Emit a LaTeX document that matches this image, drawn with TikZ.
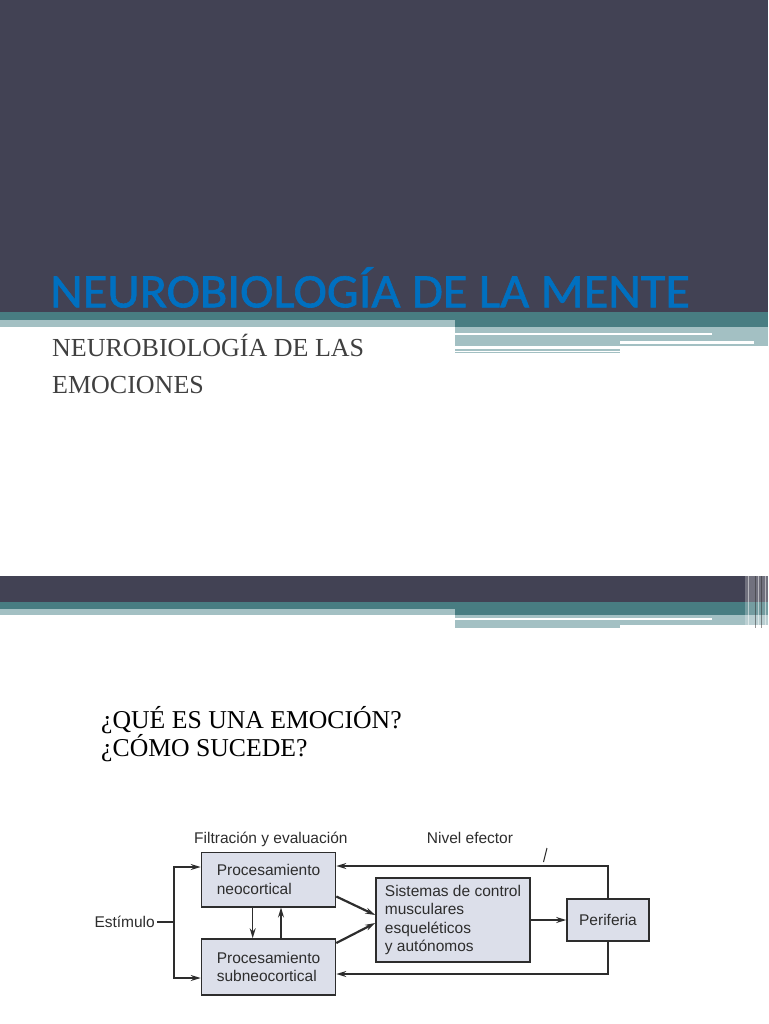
\documentclass[tikz,border=0pt]{standalone}
\usepackage{fontspec}
\setmainfont{Liberation Serif}
\newfontfamily\titlefont[FakeStretch=1.05,FakeBold=1.3]{Carlito}
\newfontfamily\diagfont{Liberation Sans}
\usetikzlibrary{arrows.meta}
\definecolor{slate}{RGB}{66,66,84}
\definecolor{tealband}{RGB}{72,125,130}
\definecolor{paleteal}{RGB}{163,192,195}
\definecolor{titleblue}{RGB}{0,112,192}
\definecolor{subgray}{RGB}{64,64,64}
\definecolor{boxfill}{RGB}{220,223,234}
\definecolor{ink}{RGB}{45,45,45}

\begin{document}
\begin{tikzpicture}[x=1pt,y=-1pt,>={Stealth[length=10pt,width=6pt]},
  box/.style={draw=ink,line width=1.6pt,fill=boxfill,align=left,inner sep=0pt,
    font=\diagfont\fontsize{15.5}{18.3}\selectfont,text=ink},
  lbl/.style={inner sep=0pt,font=\diagfont\fontsize{15.5}{18}\selectfont,text=ink},
  wire/.style={draw=ink,line width=1.3pt},
  heavy/.style={draw=ink,line width=2.2pt}]
\useasboundingbox (0,0) rectangle (768,1024);
%% franja superior
\fill[slate] (0,0) rectangle (768,312);
\fill[tealband] (0,312) rectangle (768,319.5);
\fill[tealband] (455,319.5) rectangle (768,327);
\fill[paleteal] (0,319.5) rectangle (455,327);
\fill[paleteal] (455,327) rectangle (768,346);
\fill[white] (455,333.3) rectangle (712,335);
\fill[white] (620,341) rectangle (754,344);
\fill[paleteal] (455,349) rectangle (620,353);
\fill[white] (455,350.6) rectangle (620,351.4);
%% franja media
\fill[slate] (0,576) rectangle (768,602);
\fill[tealband] (0,602) rectangle (768,609);
\fill[tealband] (455,609) rectangle (768,615);
\fill[paleteal] (0,609) rectangle (455,615);
\fill[paleteal] (455,615) rectangle (768,625);
\fill[white] (455,617.7) rectangle (712,620);
\fill[paleteal] (455,625) rectangle (620,628);
\fill[white,opacity=.25] (745,576) rectangle (768,628);
\foreach \x/\c in {748/white,755/ink,758/white,761/ink,765/white}
  \draw[\c,opacity=.5,line width=1pt] (\x,576) -- (\x,628);
%% textos
\node[anchor=base west,inner sep=0pt,text=titleblue,font=\titlefont\fontsize{48}{48}\selectfont] (titulo) at (50,307.3) {NEUROBIOLOGÍA DE LA MENTE};
\node[anchor=base west,inner sep=0pt,text=subgray,font=\fontsize{26}{26}\selectfont] (subtA) at (52,356.7) {NEUROBIOLOGÍA DE LAS};
\node[anchor=base west,inner sep=0pt,text=subgray,font=\fontsize{26}{26}\selectfont] (subtB) at (52,393.3) {EMOCIONES};
\node[anchor=base west,inner sep=0pt,font=\fontsize{25.7}{25.7}\selectfont] (pregA) at (101,728) {¿QUÉ ES UNA EMOCIÓN?};
\node[anchor=base west,inner sep=0pt,font=\fontsize{25.7}{25.7}\selectfont] (pregB) at (101,756) {¿CÓMO SUCEDE?};
%% diagrama
\node[box,minimum width=134pt,minimum height=54.4pt] (neo) at (268.5,879.5) {Procesamiento\\neocortical};
\node[box,minimum width=134pt,minimum height=56pt] (subn) at (268.5,967) {Procesamiento\\subneocortical};
\node[box,minimum width=154pt,minimum height=84pt] (sis) at (453,920) {Sistemas de control\\musculares\\esqueléticos\\y autónomos};
\node[box,minimum width=82pt,minimum height=42pt] (peri) at (608,920) {Periferia};
\node[lbl,anchor=base west] (filt) at (194,843) {Filtración y evaluación};
\node[lbl,anchor=base west] (nivel) at (426.7,843) {Nivel efector};
\node[lbl,anchor=east] (est) at (155,922) {Estímulo};
\coordinate (split) at (174,922);
\draw[wire] ([xshift=2pt]est.east) -- (split);
\draw[wire,->] (split) |- ([yshift=12.5pt]neo.west);
\draw[wire,->] (split) |- ([yshift=-11pt]subn.west);
\draw[wire,->] ([xshift=-15.8pt]neo.south) -- ([xshift=-15.8pt]subn.north);
\draw[wire,->] ([xshift=12.5pt]subn.north) -- ([xshift=12.5pt]neo.south);
\draw[heavy,->] ([yshift=-17pt]neo.east) -- ([yshift=5pt]sis.west);
\draw[heavy,->] ([yshift=24pt]subn.east) -- ([yshift=-3pt]sis.west);
\draw[wire,->] (sis.east) -- (peri.west);
\draw[wire,->] (peri.north) |- ([yshift=13.5pt]neo.east);
\draw[wire,->] (peri.south) |- ([yshift=-7pt]subn.east);
\draw[wire,line width=1pt] (543.5,862) -- (547,848);
\end{tikzpicture}
\end{document}
